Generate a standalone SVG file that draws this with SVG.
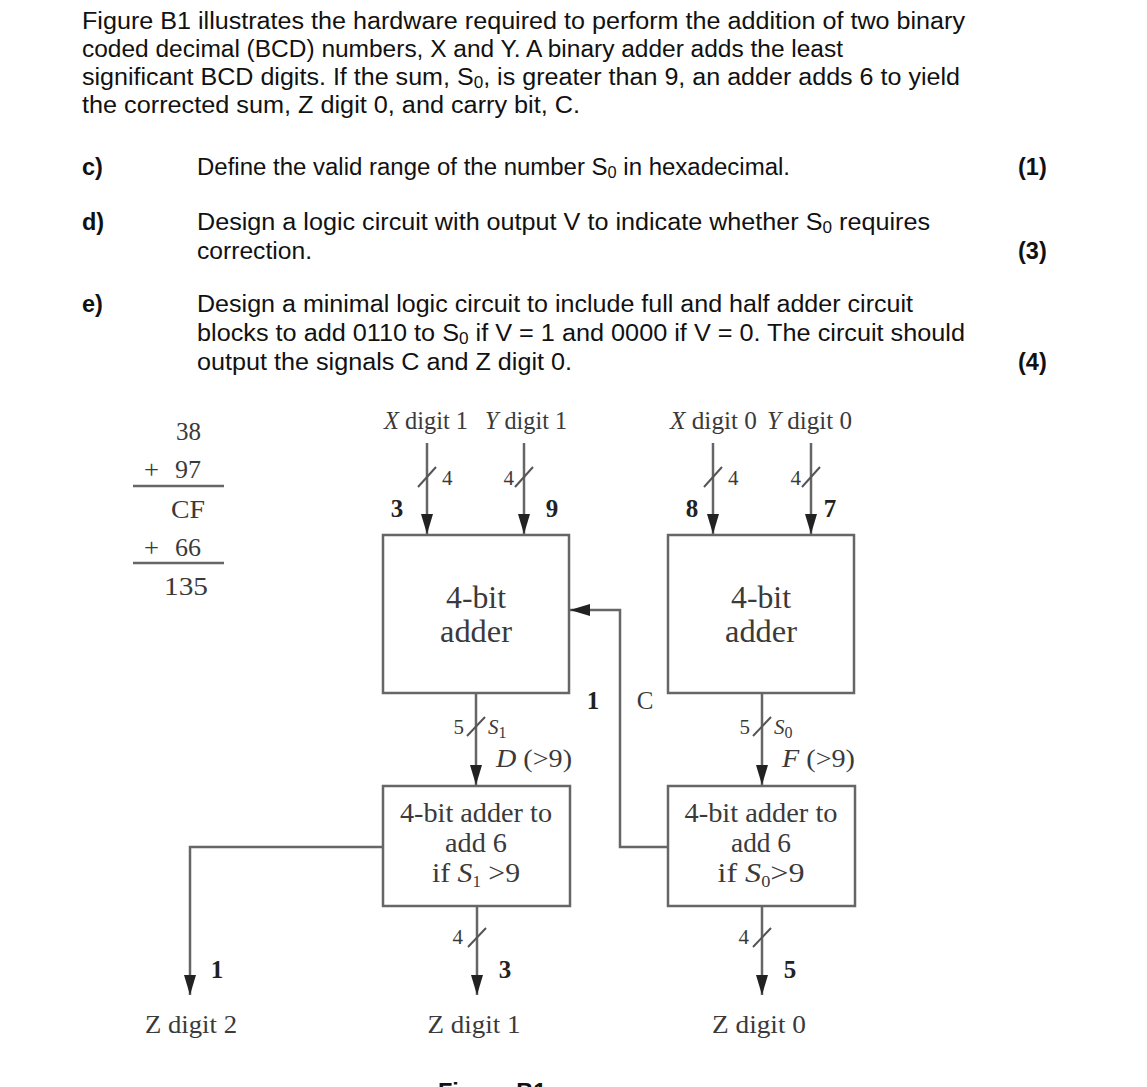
<svg xmlns="http://www.w3.org/2000/svg" width="1147" height="1087" viewBox="0 0 1147 1087">
<style>
.p{font-family:"Liberation Sans",Arial,sans-serif;font-size:23.5px;fill:#111}
.b{font-weight:bold}
.sub{font-size:16px}
.t{font-family:"Liberation Serif","Times New Roman",serif;fill:#3a3a3a}
.lbl{font-size:25px}
.sm{font-size:21px}
.num{font-family:"Liberation Serif","Times New Roman",serif;font-size:25px;font-weight:bold;fill:#222}
.big{font-size:31px}
.mid{font-size:28px}
.i{font-style:italic}
.box{fill:#fff;stroke:#666;stroke-width:2.5}
.wire{fill:none;stroke:#666;stroke-width:2.5}
.slash{fill:none;stroke:#555;stroke-width:2}
</style>
<defs>
<marker id="ah" viewBox="0 0 20 12" refX="20" refY="6" markerWidth="20" markerHeight="12" markerUnits="userSpaceOnUse" orient="auto">
<path d="M0,0 L20,6 L0,12 z" fill="#222"/>
</marker>
</defs>
<rect width="1147" height="1087" fill="#fff"/>

<g id="question">
<text class="p" x="82" y="29" textLength="883" lengthAdjust="spacingAndGlyphs">Figure B1 illustrates the hardware required to perform the addition of two binary</text>
<text class="p" x="82" y="57" textLength="761" lengthAdjust="spacingAndGlyphs">coded decimal (BCD) numbers, X and Y. A binary adder adds the least</text>
<text class="p" x="82" y="85" textLength="878" lengthAdjust="spacingAndGlyphs">significant BCD digits. If the sum, S<tspan class="sub" dy="3">0</tspan><tspan dy="-3">, is greater than 9, an adder adds 6 to yield</tspan></text>
<text class="p" x="82" y="113" textLength="498" lengthAdjust="spacingAndGlyphs">the corrected sum, Z digit 0, and carry bit, C.</text>

<text class="p b" x="82" y="175">c)</text>
<text class="p" x="197" y="175" textLength="593" lengthAdjust="spacingAndGlyphs">Define the valid range of the number S<tspan class="sub" dy="3">0</tspan><tspan dy="-3"> in hexadecimal.</tspan></text>
<text class="p b" x="1018" y="175">(1)</text>

<text class="p b" x="82" y="230">d)</text>
<text class="p" x="197" y="230" textLength="733" lengthAdjust="spacingAndGlyphs">Design a logic circuit with output V to indicate whether S<tspan class="sub" dy="3">0</tspan><tspan dy="-3"> requires</tspan></text>
<text class="p" x="197" y="259" textLength="115" lengthAdjust="spacingAndGlyphs">correction.</text>
<text class="p b" x="1018" y="259">(3)</text>

<text class="p b" x="82" y="312">e)</text>
<text class="p" x="197" y="312" textLength="716" lengthAdjust="spacingAndGlyphs">Design a minimal logic circuit to include full and half adder circuit</text>
<text class="p" x="197" y="341" textLength="768" lengthAdjust="spacingAndGlyphs">blocks to add 0110 to S<tspan class="sub" dy="3">0</tspan><tspan dy="-3"> if V = 1 and 0000 if V = 0. The circuit should</tspan></text>
<text class="p" x="197" y="370" textLength="375" lengthAdjust="spacingAndGlyphs">output the signals C and Z digit 0.</text>
<text class="p b" x="1018" y="370">(4)</text>
</g>

<g id="example-sum">
<text class="t lbl" x="201" y="440" text-anchor="end" textLength="25" lengthAdjust="spacingAndGlyphs">38</text>
<text class="t lbl" x="144" y="478" textLength="15" lengthAdjust="spacingAndGlyphs">+</text>
<text class="t lbl" x="201" y="478" text-anchor="end" textLength="26" lengthAdjust="spacingAndGlyphs">97</text>
<line class="wire" x1="133" y1="486" x2="224" y2="486"/>
<text class="t lbl" x="205" y="518" text-anchor="end" textLength="34" lengthAdjust="spacingAndGlyphs">CF</text>
<text class="t lbl" x="144" y="556" textLength="15" lengthAdjust="spacingAndGlyphs">+</text>
<text class="t lbl" x="201" y="556" text-anchor="end" textLength="26" lengthAdjust="spacingAndGlyphs">66</text>
<line class="wire" x1="133" y1="563" x2="224" y2="563"/>
<text class="t lbl" x="208" y="595" text-anchor="end" textLength="44" lengthAdjust="spacingAndGlyphs">135</text>
</g>

<g id="inputs">
<text class="t lbl" x="384" y="429" textLength="84" lengthAdjust="spacingAndGlyphs"><tspan class="i">X</tspan> digit 1</text>
<text class="t lbl" x="485" y="429" textLength="82" lengthAdjust="spacingAndGlyphs"><tspan class="i">Y</tspan> digit 1</text>
<text class="t lbl" x="670" y="429" textLength="87" lengthAdjust="spacingAndGlyphs"><tspan class="i">X</tspan> digit 0</text>
<text class="t lbl" x="767" y="429" textLength="85" lengthAdjust="spacingAndGlyphs"><tspan class="i">Y</tspan> digit 0</text>
</g>

<g id="adder-digit1">
<rect class="box" x="383" y="535" width="186" height="158"/>
<text class="t big" x="476" y="608" text-anchor="middle" textLength="60" lengthAdjust="spacingAndGlyphs">4-bit</text>
<text class="t big" x="476" y="642" text-anchor="middle" textLength="72" lengthAdjust="spacingAndGlyphs">adder</text>
</g>

<g id="adder-digit0">
<rect class="box" x="668" y="535" width="186" height="158"/>
<text class="t big" x="761" y="608" text-anchor="middle" textLength="60" lengthAdjust="spacingAndGlyphs">4-bit</text>
<text class="t big" x="761" y="642" text-anchor="middle" textLength="72" lengthAdjust="spacingAndGlyphs">adder</text>
</g>

<g id="corrector-digit1">
<rect class="box" x="383" y="786" width="187" height="120"/>
<text class="t mid" x="476" y="822" text-anchor="middle" textLength="152" lengthAdjust="spacingAndGlyphs">4-bit adder to</text>
<text class="t mid" x="476" y="852" text-anchor="middle" textLength="62" lengthAdjust="spacingAndGlyphs">add 6</text>
<text class="t mid" x="476" y="882" text-anchor="middle" textLength="88" lengthAdjust="spacingAndGlyphs">if <tspan class="i">S</tspan><tspan class="sub" dy="5">1</tspan><tspan dy="-5"> &gt;9</tspan></text>
</g>

<g id="corrector-digit0">
<rect class="box" x="668" y="786" width="187" height="120"/>
<text class="t mid" x="761" y="822" text-anchor="middle" textLength="153" lengthAdjust="spacingAndGlyphs">4-bit adder to</text>
<text class="t mid" x="761" y="852" text-anchor="middle" textLength="60" lengthAdjust="spacingAndGlyphs">add 6</text>
<text class="t mid" x="761" y="882" text-anchor="middle" textLength="87" lengthAdjust="spacingAndGlyphs">if <tspan class="i">S</tspan><tspan class="sub" dy="5">0</tspan><tspan dy="-5">&gt;9</tspan></text>
</g>

<g id="outputs">
<text class="t lbl" x="191" y="1033" text-anchor="middle" textLength="92" lengthAdjust="spacingAndGlyphs">Z digit 2</text>
<text class="t lbl" x="474" y="1033" text-anchor="middle" textLength="93" lengthAdjust="spacingAndGlyphs">Z digit 1</text>
<text class="t lbl" x="759" y="1033" text-anchor="middle" textLength="94" lengthAdjust="spacingAndGlyphs">Z digit 0</text>
</g>

<g id="connectors">
<path class="wire" d="M427,443 V534" marker-end="url(#ah)"/>
<path class="wire" d="M524,443 V534" marker-end="url(#ah)"/>
<path class="wire" d="M713,443 V534" marker-end="url(#ah)"/>
<path class="wire" d="M811,443 V534" marker-end="url(#ah)"/>
<path class="wire" d="M668,847 H620 V610 H570" marker-end="url(#ah)"/>
<path class="wire" d="M476,693 V785" marker-end="url(#ah)"/>
<path class="wire" d="M762,693 V785" marker-end="url(#ah)"/>
<path class="wire" d="M383,847 H190 V995" marker-end="url(#ah)"/>
<path class="wire" d="M477,906 V995" marker-end="url(#ah)"/>
<path class="wire" d="M762,906 V995" marker-end="url(#ah)"/>

<path class="slash" d="M418,487 L436,467 M515,487 L533,467 M704,487 L722,467 M802,487 L820,467"/>
<path class="slash" d="M467,736 L485,717 M753,736 L771,717"/>
<path class="slash" d="M468,947 L486,928 M753,947 L771,928"/>

<text class="t sm" x="442" y="485">4</text>
<text class="t sm" x="514" y="485" text-anchor="end">4</text>
<text class="t sm" x="728" y="485">4</text>
<text class="t sm" x="801" y="485" text-anchor="end">4</text>
<text class="t sm" x="464" y="734" text-anchor="end">5</text>
<text class="t sm" x="488" y="734"><tspan class="i">S</tspan><tspan class="sub" dy="4">1</tspan></text>
<text class="t lbl" x="496" y="767" textLength="76" lengthAdjust="spacingAndGlyphs"><tspan class="i">D</tspan> (&gt;9)</text>
<text class="t sm" x="750" y="734" text-anchor="end">5</text>
<text class="t sm" x="774" y="734"><tspan class="i">S</tspan><tspan class="sub" dy="4">0</tspan></text>
<text class="t lbl" x="782" y="767" textLength="73" lengthAdjust="spacingAndGlyphs"><tspan class="i">F</tspan> (&gt;9)</text>
<text class="t sm" x="463" y="944" text-anchor="end">4</text>
<text class="t sm" x="749" y="944" text-anchor="end">4</text>

<text class="num" x="397" y="517" text-anchor="middle">3</text>
<text class="num" x="552" y="517" text-anchor="middle">9</text>
<text class="num" x="692" y="517" text-anchor="middle">8</text>
<text class="num" x="830" y="517" text-anchor="middle">7</text>
<text class="num" x="593" y="709" text-anchor="middle">1</text>
<text class="t lbl" x="645" y="709" text-anchor="middle">C</text>
<text class="num" x="217" y="978" text-anchor="middle">1</text>
<text class="num" x="505" y="978" text-anchor="middle">3</text>
<text class="num" x="790" y="978" text-anchor="middle">5</text>
</g>

<text class="p b" x="438" y="1100">Figure B1</text>
</svg>
